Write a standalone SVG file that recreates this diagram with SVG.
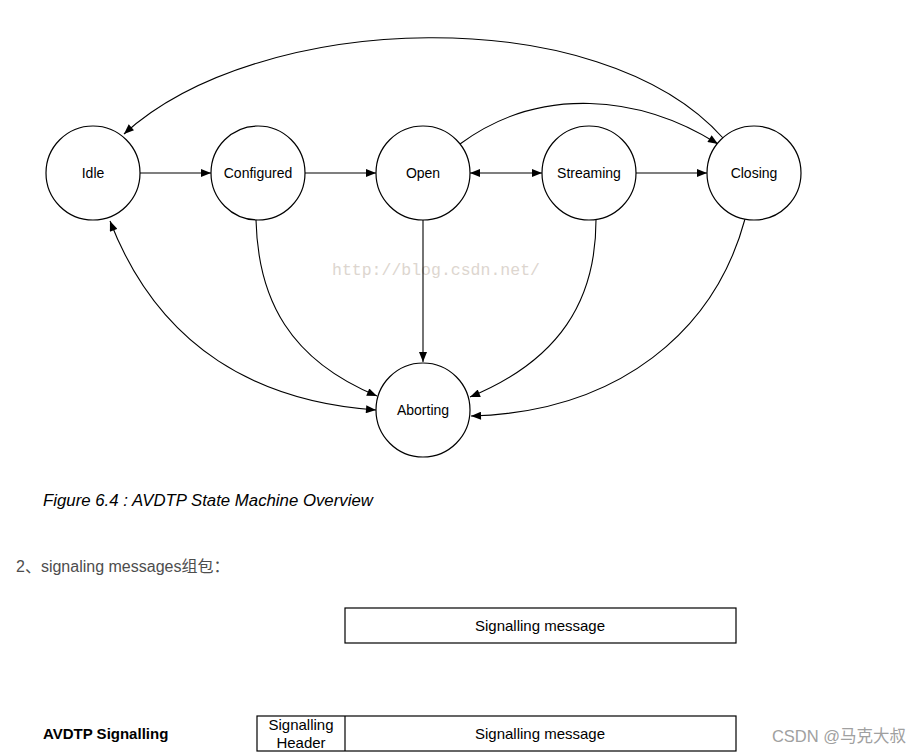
<svg xmlns="http://www.w3.org/2000/svg" width="922" height="754" viewBox="0 0 922 754">
<style>
.st{fill:#fff;stroke:#000;stroke-width:1.2}
.lbl{font-family:"Liberation Sans",Arial,sans-serif;font-size:14px;fill:#000;text-anchor:middle}
.cn{fill:none;stroke:#000;stroke-width:1.1}
.box{fill:#fff;stroke:#000;stroke-width:1.2}
.bt{font-family:"Liberation Sans",Arial,sans-serif;font-size:15px;fill:#000;text-anchor:middle}
</style>
<defs>
<marker id="ah" viewBox="0 0 10 8" refX="10" refY="4" markerWidth="11" markerHeight="8" markerUnits="userSpaceOnUse" orient="auto-start-reverse">
<path d="M0,0 L10,4 L0,8 Z" fill="#000"/>
</marker>
</defs>
<rect width="922" height="754" fill="#fff"/>
<text x="332" y="275" font-family="Liberation Mono,monospace" font-size="16.5" fill="#ddd6cf">http://blog.csdn.net/</text>
<g id="connectors">
<path class="cn" d="M140,173 L211,173" marker-end="url(#ah)"/>
<path class="cn" d="M305,173 L376,173" marker-end="url(#ah)"/>
<path class="cn" d="M470,173 L542,173" marker-start="url(#ah)" marker-end="url(#ah)"/>
<path class="cn" d="M636,173 L707,173" marker-end="url(#ah)"/>
<path class="cn" d="M460,144 C540,85 640,95 718,144" marker-end="url(#ah)"/>
<path class="cn" d="M723,138 C600,0 260,10 124,134" marker-end="url(#ah)"/>
<path class="cn" d="M423,220 L423,362" marker-end="url(#ah)"/>
<path class="cn" d="M110,221 C160,350 260,402 376,410" marker-start="url(#ah)" marker-end="url(#ah)"/>
<path class="cn" d="M256,220 C258,300 290,360 377,396" marker-end="url(#ah)"/>
<path class="cn" d="M596,220 C596,300 560,360 470,397" marker-end="url(#ah)"/>
<path class="cn" d="M745,219 C715,330 620,412 471,416" marker-end="url(#ah)"/>
</g>
<g id="idle"><circle class="st" cx="93" cy="173" r="47"/><text class="lbl" x="93" y="178">Idle</text></g>
<g id="configured"><circle class="st" cx="258" cy="173" r="47"/><text class="lbl" x="258" y="178">Configured</text></g>
<g id="open"><circle class="st" cx="423" cy="173" r="47"/><text class="lbl" x="423" y="178">Open</text></g>
<g id="streaming"><circle class="st" cx="589" cy="173" r="47"/><text class="lbl" x="589" y="178">Streaming</text></g>
<g id="closing"><circle class="st" cx="754" cy="173" r="47"/><text class="lbl" x="754" y="178">Closing</text></g>
<g id="aborting"><circle class="st" cx="423" cy="410" r="47"/><text class="lbl" x="423" y="415">Aborting</text></g>
<text x="43" y="506" font-family="Liberation Sans,Arial,sans-serif" font-size="16.8" font-style="italic" fill="#000">Figure 6.4 : AVDTP State Machine Overview</text>
<text x="16" y="572" font-family="Liberation Sans,Arial,'Noto Sans CJK SC',sans-serif" font-size="16" fill="#4d4d4d">2、signaling messages组包：</text>
<g id="box1"><rect class="box" x="345" y="608" width="391" height="35"/><text class="bt" x="540" y="631">Signalling message</text></g>
<text x="43" y="739" font-family="Liberation Sans,Arial,sans-serif" font-size="15" font-weight="bold" fill="#000">AVDTP Signalling</text>
<g id="box2"><rect class="box" x="257" y="716" width="479" height="35"/><line x1="345" y1="716" x2="345" y2="751" stroke="#000" stroke-width="1.2"/>
<text class="bt" x="301" y="730">Signalling</text><text class="bt" x="301" y="748">Header</text>
<text class="bt" x="540" y="739">Signalling message</text></g>
<text x="906" y="742" text-anchor="end" font-family="Liberation Sans,Arial,'Noto Sans CJK SC',sans-serif" font-size="16.5" fill="#a0a0a0">CSDN @马克大叔</text>
</svg>
